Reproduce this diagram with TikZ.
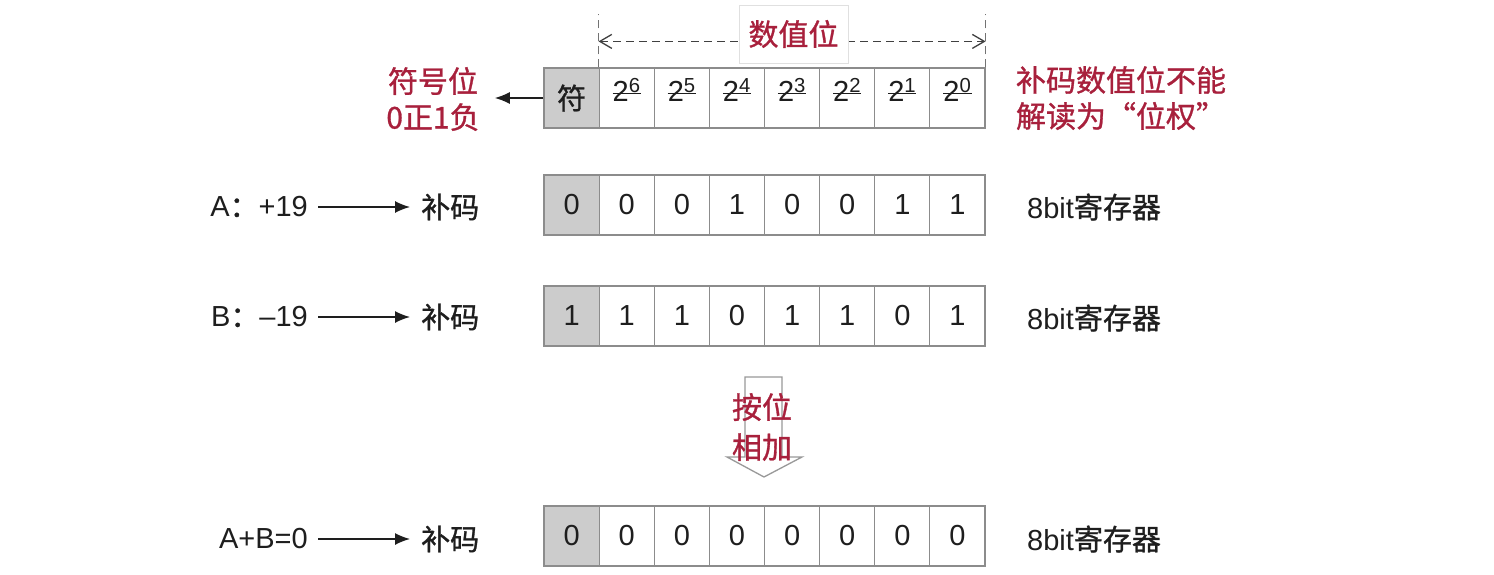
\documentclass[tikz,border=0pt]{standalone}
\usepackage{fontspec}
\setmainfont{Liberation Sans}
\newfontfamily\cjk[FakeBold=1]{Noto Sans CJK SC}
\usetikzlibrary{arrows.meta}
\definecolor{myred}{HTML}{A8203C}
\definecolor{cellgray}{HTML}{CCCCCC}
\definecolor{edgegray}{HTML}{8C8C8C}
\definecolor{txt}{HTML}{1E1E1E}
\begin{document}
\begin{tikzpicture}[x=1pt,y=-1pt,
  cell/.style={draw=edgegray, line width=1.2pt, fill=white, minimum width=55.125pt, minimum height=60pt, inner sep=0pt, text=txt, font=\fontsize{29}{32}\selectfont},
  signcell/.style={cell, fill=cellgray},
  lab/.style={inner sep=0pt, text=txt, font=\fontsize{29}{32}\selectfont},
  cjklab/.style={lab, font=\fontsize{29}{32}\selectfont\cjk},
  redlab/.style={inner sep=0pt, text=myred, align=center, font=\fontsize{30}{36}\selectfont\cjk},
  arr/.style={-{Latex[length=15pt,width=12pt]}, line width=1.4pt, draw=txt},
  dimline/.style={dashed, dash pattern=on 8pt off 5pt, line width=1.3pt, draw=black!75},
  ]
\useasboundingbox[fill=white] (0,0) rectangle (1494,575);

% ---------- top register (weights) ----------
\node[signcell, font=\fontsize{29}{32}\selectfont\cjk] (s0) at (571.56,98) {符};
\foreach \e [count=\i] in {6,5,4,3,2,1,0} {
  \node[cell] (w\i) at ({544+55.125*(\i+0.5)},98) {};
  \node[lab, anchor=center] (t\i) at ([yshift=8pt]w\i.center) {2\textsuperscript{\e}};
  \draw[line width=1.1pt, draw=txt] ([yshift=-3.5pt]t\i.west) -- ([yshift=-3.5pt]t\i.east);
}

% dimension line
\draw[dimline, line width=1pt, draw=black!55] (w1.north west) -- ++(0,-53);
\draw[dimline, line width=1pt, draw=black!55] (w7.north east) -- ++(0,-53);
\draw[dimline, {Straight Barb[length=12pt,width=14pt]}-{Straight Barb[length=12pt,width=14pt]}]
  ([yshift=26pt]w1.north west) -- ([yshift=26pt]w7.north east);
\node[redlab, draw=black!12, line width=0.8pt, fill=white, minimum width=109pt, minimum height=58pt] (dz) at (793.5,34) {数值位};

% sign label
\node[redlab] (sgnlab) at (433,99) {符号位\\0正1负};
\draw[arr, shorten >=15pt] (s0.west) -- (s0.west -| sgnlab.east);

% right label
\node[redlab] (wlab) at (1121,98) {补码数值位不能\\解读为“位权”};

% ---------- row A ----------
\node[lab, anchor=east] (la) at (308,207) {A{\cjk ：}+19};
\node[cjklab, anchor=west] (ba) at (421,207) {补码};
\draw[arr, shorten <=10pt, shorten >=11pt] (la.east) -- (la.east -| ba.west);
\node[signcell] (a0) at (571.56,205) {0};
\foreach \b [count=\i] in {0,0,1,0,0,1,1}
  \node[cell] (a\i) at ({544+55.125*(\i+0.5)},205) {\b};
\node[lab, anchor=west] (ra) at (1027,207) {8bit{\cjk 寄存器}};

% ---------- row B ----------
\node[lab, anchor=east] (lb) at (308,317) {B{\cjk ：}–19};
\node[cjklab, anchor=west] (bb) at (421,317) {补码};
\draw[arr, shorten <=10pt, shorten >=11pt] (lb.east) -- (lb.east -| bb.west);
\node[signcell] (b0) at (571.56,316) {1};
\foreach \b [count=\i] in {1,1,0,1,1,0,1}
  \node[cell] (b\i) at ({544+55.125*(\i+0.5)},316) {\b};
\node[lab, anchor=west] (rb) at (1027,318) {8bit{\cjk 寄存器}};

% ---------- block arrow ----------
\draw[draw=black!40, line width=1.3pt, fill=white, line join=miter]
  (745,377) -- (782,377) -- (782,457) -- (802,457) -- (764,477) -- (727,457) -- (745,457) -- cycle;
\node[redlab, font=\fontsize{30}{40}\selectfont\cjk] (add) at (762,427) {按位\\相加};

% ---------- row A+B ----------
\node[lab, anchor=east] (lc) at (308,539) {A+B=0};
\node[cjklab, anchor=west] (bc) at (421,539) {补码};
\draw[arr, shorten <=10pt, shorten >=11pt] (lc.east) -- (lc.east -| bc.west);
\node[signcell] (c0) at (571.56,536) {0};
\foreach \b [count=\i] in {0,0,0,0,0,0,0}
  \node[cell] (c\i) at ({544+55.125*(\i+0.5)},536) {\b};
\node[lab, anchor=west] (rc) at (1027,539) {8bit{\cjk 寄存器}};
\end{tikzpicture}
\end{document}
